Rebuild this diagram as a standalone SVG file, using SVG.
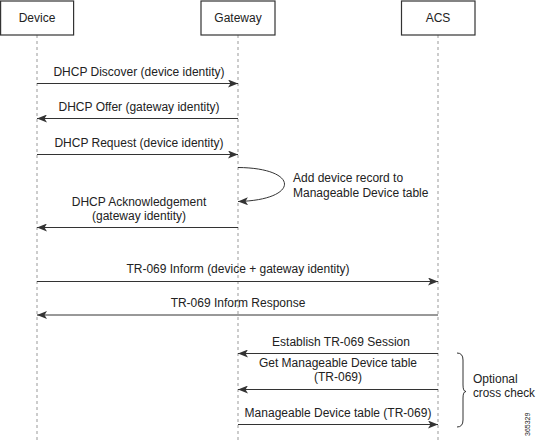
<svg xmlns="http://www.w3.org/2000/svg" width="537" height="440" viewBox="0 0 537 440">
<style>
.box{fill:#fff;stroke:#333;stroke-width:1.2}
.life{stroke:#999;stroke-width:1;stroke-dasharray:3,3}
.msg{stroke:#333;stroke-width:1;fill:none}
text{font-family:"Liberation Sans",Arial,sans-serif;font-size:12px;fill:#222}
.c{text-anchor:middle}
</style>
<defs>
<marker id="ah" viewBox="0 0 10 8" refX="10" refY="4" markerWidth="10" markerHeight="8" markerUnits="userSpaceOnUse" orient="auto">
<path d="M0,0 L10,4 L0,8 L2.5,4 Z" fill="#333"/>
</marker>
</defs>
<rect width="537" height="440" fill="#fff"/>
<g id="lifelines">
<line class="life" x1="37" y1="35" x2="37" y2="440"/>
<line class="life" x1="238" y1="35" x2="238" y2="440"/>
<line class="life" x1="438" y1="35" x2="438" y2="440"/>
</g>
<g id="device"><rect class="box" x="0.6" y="1" width="73" height="34"/><text class="c" x="37" y="22">Device</text></g>
<g id="gateway"><rect class="box" x="201" y="1" width="74" height="34"/><text class="c" x="238" y="22">Gateway</text></g>
<g id="acs"><rect class="box" x="401.5" y="1" width="73.5" height="34"/><text class="c" x="438" y="22">ACS</text></g>
<g id="connectors">
<line class="msg" x1="37" y1="83.5" x2="238" y2="83.5" marker-end="url(#ah)"/>
<line class="msg" x1="238" y1="118.5" x2="37" y2="118.5" marker-end="url(#ah)"/>
<line class="msg" x1="37" y1="154.5" x2="238" y2="154.5" marker-end="url(#ah)"/>
<path class="msg" d="M238,167.5 C300,168 300,200 238,201.5" marker-end="url(#ah)"/>
<line class="msg" x1="238" y1="227.5" x2="37" y2="227.5" marker-end="url(#ah)"/>
<line class="msg" x1="37" y1="281.5" x2="438" y2="281.5" marker-end="url(#ah)"/>
<line class="msg" x1="438" y1="315" x2="37" y2="315" marker-end="url(#ah)"/>
<line class="msg" x1="438" y1="353.5" x2="238" y2="353.5" marker-end="url(#ah)"/>
<line class="msg" x1="438" y1="389.5" x2="238" y2="389.5" marker-end="url(#ah)"/>
<line class="msg" x1="238" y1="424.5" x2="438" y2="424.5" marker-end="url(#ah)"/>
<path class="msg" d="M457,353 Q463,353 463,360 L463,385 Q463,391.5 466,391.5 Q463,391.5 463,398 L463,420 Q463,427 457,427"/>
</g>
<g id="labels">
<text class="c" x="139" y="76">DHCP Discover (device identity)</text>
<text class="c" x="139" y="111">DHCP Offer (gateway identity)</text>
<text class="c" x="139" y="147">DHCP Request (device identity)</text>
<text x="293" y="182">Add device record to</text>
<text x="293" y="197">Manageable Device table</text>
<text class="c" x="139" y="206">DHCP Acknowledgement</text>
<text class="c" x="139" y="220">(gateway identity)</text>
<text class="c" x="238" y="273">TR-069 Inform (device + gateway identity)</text>
<text class="c" x="238" y="307">TR-069 Inform Response</text>
<text class="c" x="341" y="346">Establish TR-069 Session</text>
<text class="c" x="338" y="367">Get Manageable Device table</text>
<text class="c" x="338" y="381">(TR-069)</text>
<text class="c" x="338" y="417">Manageable Device table (TR-069)</text>
<text x="473" y="383">Optional</text>
<text x="473" y="397" textLength="62" lengthAdjust="spacingAndGlyphs">cross check</text>
<text transform="translate(530,436) rotate(-90)" style="font-size:7px">365329</text>
</g>
</svg>
